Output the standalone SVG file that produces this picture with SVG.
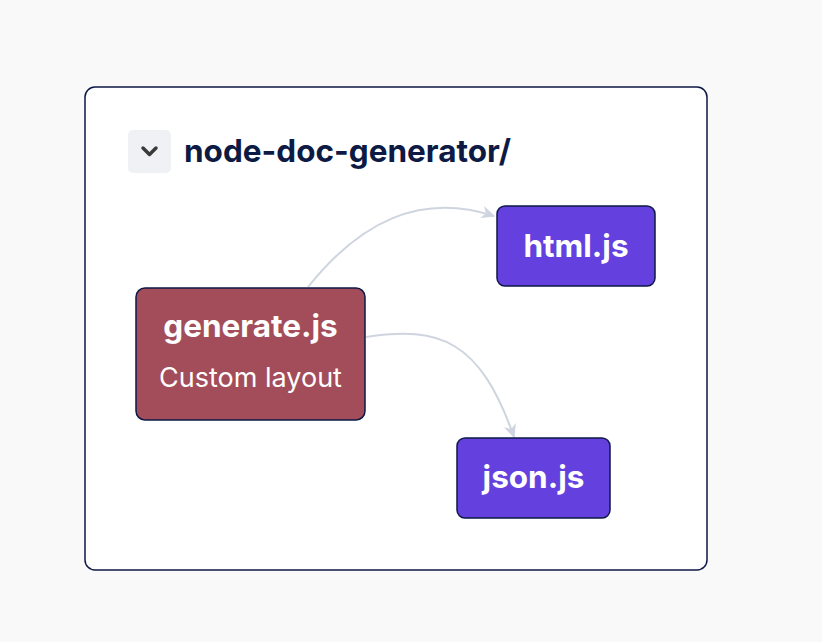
<svg xmlns="http://www.w3.org/2000/svg" width="822" height="642" viewBox="0 0 822 642">
<defs>
<style>
.node{stroke:#0d1846;stroke-width:1.5}
.t{font-family:Inter,"Noto Sans",sans-serif;fill:#ffffff;text-anchor:middle}
.b{font-weight:700;font-size:31.5px}
.edge{fill:none;stroke:#cfd5e0;stroke-width:2}
</style>
<marker id="arr" viewBox="0 0 10 10" refX="9" refY="5" markerWidth="14" markerHeight="14" orient="auto" markerUnits="userSpaceOnUse">
<path d="M0,0.5 L10,5 L0,9.5 L3,5 Z" fill="#cfd5e0"/>
</marker>
</defs>
<rect width="822" height="642" fill="#f9f9f9"/>
<g id="group-node-doc-generator">
<rect x="85" y="87" width="622" height="483" rx="10" fill="#ffffff" stroke="#0d1846" stroke-width="1.5"/>
<rect x="128" y="130" width="43" height="43" rx="5" fill="#f0f1f4"/>
<path d="M143,148 L149.5,154.5 L156,148" fill="none" stroke="#3a3a3a" stroke-width="3.5" stroke-linecap="round" stroke-linejoin="round"/>
<text x="184" y="162" font-family="Inter,'Noto Sans',sans-serif" font-weight="700" font-size="31.5" fill="#0c1a44">node-doc-generator/</text>
</g>
<g id="connectors">
<path class="edge" d="M308,287 C360,222 420,192 494,216" marker-end="url(#arr)"/>
<path class="edge" d="M366,337 C440,326 480,340 514,437" marker-end="url(#arr)"/>
</g>
<g id="node-html">
<rect class="node" x="497" y="206" width="158" height="80" rx="8" fill="#6441df"/>
<text class="t b" x="576" y="257">html.js</text>
</g>
<g id="node-generate">
<rect class="node" x="136" y="288" width="229" height="132" rx="9" fill="#a34d5a"/>
<text class="t b" x="250.5" y="337">generate.js</text>
<text class="t" x="250.5" y="387" font-size="27">Custom layout</text>
</g>
<g id="node-json">
<rect class="node" x="457" y="438" width="153" height="80" rx="8" fill="#6441df"/>
<text class="t b" x="533.5" y="488">json.js</text>
</g>
</svg>
